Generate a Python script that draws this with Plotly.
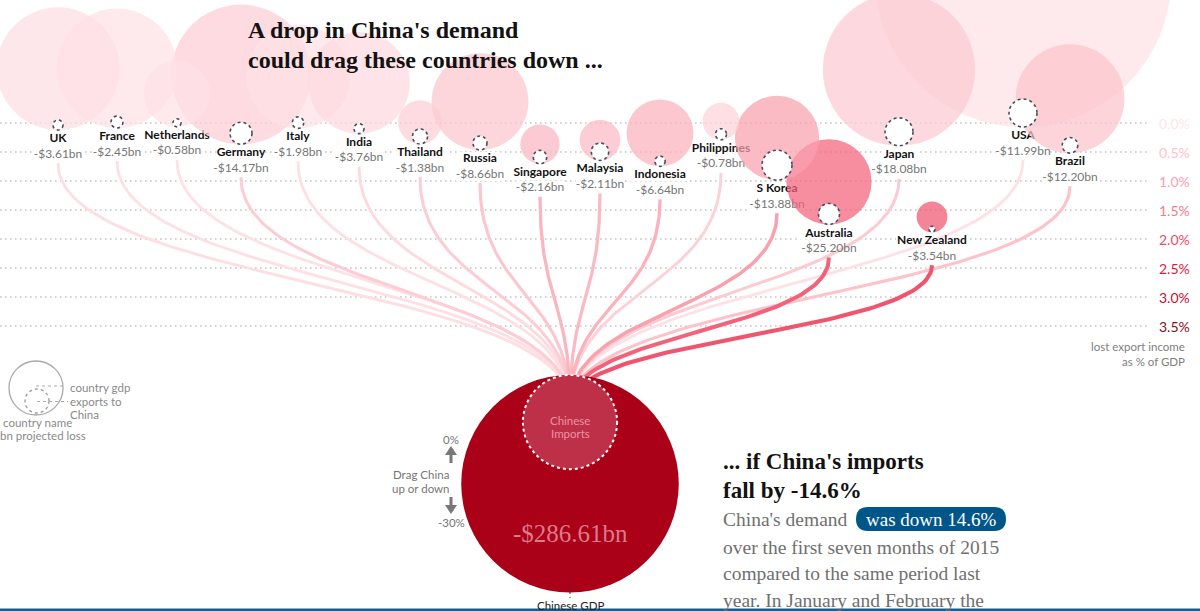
import numpy as np
import plotly.graph_objects as go
from plotly.colors import sample_colorscale

# ---------------- data ----------------
countries = ["UK", "France", "Netherlands", "Germany", "Italy", "India", "Thailand", "Russia",
             "Singapore", "Malaysia", "Indonesia", "Philippines", "S Korea", "Australia",
             "Japan", "New Zealand", "USA", "Brazil"]
loss_bn = [3.61, 2.45, 0.58, 14.17, 1.98, 3.76, 1.38, 8.66, 2.16, 2.11, 6.64, 0.78,
           13.88, 25.20, 18.08, 3.54, 11.99, 12.20]
gdp_bn = [2990, 2830, 870, 3870, 2140, 2050, 380, 1860, 307, 327, 888, 270,
          1410, 1440, 4600, 188, 17400, 2350]
exports_bn = [20, 28, 13, 96, 26, 20, 45, 39, 36, 60, 21, 24, 178, 88, 155, 7, 155, 48]

pct_ticks = [0.0, 0.5, 1.0, 1.5, 2.0, 2.5, 3.0, 3.5]
pct_tick_labels = ["0.0%", "0.5%", "1.0%", "1.5%", "2.0%", "2.5%", "3.0%", "3.5%"]
pct_tick_colors = ["#fde6ea", "#fcc4cc", "#f9a0ae", "#f47a8e", "#ef4a66", "#e8163d", "#c80c2e", "#8c0a22"]

china_imports_bn = 1963.1
china_gdp_bn = 10480
china_drop_pct = 14.6

# ---------------- layout positions (pixels) ----------------
node_x = [58, 117, 177, 241, 298, 359, 420, 480, 540, 600, 660, 721, 777, 829, 899, 932, 1023, 1070]
W, H = 1200, 611
PX0, PX_PER_PCT = 123, 58          # pixel row of 0% and pixels per 1 %
K_COUNTRY, K_CHINA = 35.5, 33.6    # px per sqrt($tn)
CHINA_X, CHINA_TOP = 570, 375
LINK_END = (570, 405)

def Y(px):
    return (px - PX0) / PX_PER_PCT

def dy(px):
    return px / PX_PER_PCT

colorscale = [[p / 3.5, c] for p, c in zip(pct_ticks, pct_tick_colors)]
def pct_color(p):
    return sample_colorscale(colorscale, [min(max(p / 3.5, 0), 1)])[0]

pct = [l / g * 100 for l, g in zip(loss_bn, gdp_bn)]
r_gdp = [K_COUNTRY * np.sqrt(g / 1000) for g in gdp_bn]
r_exp = [K_COUNTRY * np.sqrt(e / 1000) for e in exports_bn]

fig = go.Figure()
shapes = []
annotations = []

# grid lines
for p in pct_ticks:
    shapes.append(dict(type="line", xref="x", yref="y", x0=0, x1=1147, y0=p, y1=p, layer="below",
                       line=dict(color="#c4c4c4", width=1.6, dash="1.6px,3.4px")))

# white masks behind labels
for x, p, n, l in zip(node_x, pct, countries, loss_bn):
    val = f"-${l:.2f}bn"
    wn = 6.2 * len(n) + 4
    wv = 5.6 * len(val) + 4
    shapes.append(dict(type="rect", xref="x", yref="y", x0=x - wn / 2, x1=x + wn / 2,
                       y0=p + dy(2), y1=p + dy(15), fillcolor="white", line=dict(width=0), layer="below"))
    shapes.append(dict(type="rect", xref="x", yref="y", x0=x - wv / 2, x1=x + wv / 2,
                       y0=p + dy(17), y1=p + dy(31), fillcolor="white", line=dict(width=0), layer="below"))

# links (bezier, vertical link)
order = np.argsort(pct)
t = np.linspace(0, 1, 80)
for i in order:
    x0, y0 = node_x[i], PX0 + PX_PER_PCT * pct[i] + 33
    x3, y3 = LINK_END
    ym = (y0 + y3) / 2
    bx = (1 - t) ** 3 * x0 + 3 * (1 - t) ** 2 * t * x0 + 3 * (1 - t) * t ** 2 * x3 + t ** 3 * x3
    by = (1 - t) ** 3 * y0 + 3 * (1 - t) ** 2 * t * ym + 3 * (1 - t) * t ** 2 * ym + t ** 3 * y3
    fig.add_trace(go.Scatter(x=bx, y=Y(by), mode="lines", hoverinfo="skip",
                             line=dict(color=pct_color(pct[i]), width=2.8 + 0.7 * pct[i])))

# labels
fig.add_trace(go.Scatter(x=node_x, y=[p + dy(9) for p in pct], mode="text", text=countries,
                         textposition="middle center", hoverinfo="skip",
                         textfont=dict(family="Lato", size=12, color="#121212", weight="bold")))
fig.add_trace(go.Scatter(x=node_x, y=[p + dy(24.5) for p in pct], mode="text",
                         text=[f"-${l:.2f}bn" for l in loss_bn],
                         textposition="middle center", hoverinfo="skip",
                         textfont=dict(family="Lato", size=12, color="#767676")))

# gdp bubbles (big first)
for i in np.argsort(gdp_bn)[::-1]:
    x, p, r = node_x[i], pct[i], r_gdp[i]
    shapes.append(dict(type="circle", xref="x", yref="y", x0=x - r, x1=x + r,
                       y0=p - dy(2 * r), y1=p, fillcolor=pct_color(p), opacity=0.72,
                       line=dict(width=0), layer="above"))
# export circles
for x, p, r in zip(node_x, pct, r_exp):
    shapes.append(dict(type="circle", xref="x", yref="y", x0=x - r, x1=x + r,
                       y0=p - dy(2 * r), y1=p, fillcolor="white",
                       line=dict(color="#45505c", width=1.6, dash="dot"), layer="above"))

# China
R_china = K_CHINA * np.sqrt(china_gdp_bn / 1000)
R_imp = K_CHINA * np.sqrt(china_imports_bn / 1000)
shapes.append(dict(type="circle", xref="x", yref="y", x0=CHINA_X - R_china, x1=CHINA_X + R_china,
                   y0=Y(CHINA_TOP), y1=Y(CHINA_TOP + 2 * R_china), fillcolor="#aa0018",
                   line=dict(width=0), layer="above"))
shapes.append(dict(type="circle", xref="x", yref="y", x0=CHINA_X - R_imp, x1=CHINA_X + R_imp,
                   y0=Y(CHINA_TOP), y1=Y(CHINA_TOP + 2 * R_imp), fillcolor="#bd3048",
                   line=dict(color="white", width=2, dash="dot"), layer="above"))
shapes.append(dict(type="line", xref="x", yref="y", x0=570, x1=570, y0=Y(585), y1=Y(598),
                   line=dict(color="#333", width=1, dash="dot"), layer="above"))

# drag arrows
shapes.append(dict(type="line", xref="x", yref="y", x0=451, x1=451, y0=Y(454), y1=Y(463),
                   line=dict(color="#777", width=3), layer="above"))
shapes.append(dict(type="path", xref="x", yref="y",
                   path=f"M 445,{Y(455)} L 451,{Y(446)} L 457,{Y(455)} Z",
                   fillcolor="#777", line=dict(width=0), layer="above"))
shapes.append(dict(type="line", xref="x", yref="y", x0=451, x1=451, y0=Y(497), y1=Y(506),
                   line=dict(color="#777", width=3), layer="above"))
shapes.append(dict(type="path", xref="x", yref="y",
                   path=f"M 445,{Y(505)} L 451,{Y(514)} L 457,{Y(505)} Z",
                   fillcolor="#777", line=dict(width=0), layer="above"))

# legend
shapes.append(dict(type="circle", xref="x", yref="y", x0=9, x1=63, y0=Y(361), y1=Y(415),
                   line=dict(color="#aaaaaa", width=1.3), layer="above"))
shapes.append(dict(type="circle", xref="x", yref="y", x0=25, x1=49, y0=Y(389), y1=Y(413),
                   line=dict(color="#999999", width=1.3, dash="dot"), layer="above"))
shapes.append(dict(type="line", xref="x", yref="y", x0=36, x1=64, y0=Y(386), y1=Y(386),
                   line=dict(color="#aaaaaa", width=1, dash="dot"), layer="above"))
shapes.append(dict(type="line", xref="x", yref="y", x0=37, x1=68, y0=Y(401.5), y1=Y(401.5),
                   line=dict(color="#aaaaaa", width=1, dash="dot"), layer="above"))

# pill
def rrect(x0, y0, x1, y1, r):
    return (f"M {x0 + r},{Y(y0)} L {x1 - r},{Y(y0)} Q {x1},{Y(y0)} {x1},{Y(y0 + r)} "
            f"L {x1},{Y(y1 - r)} Q {x1},{Y(y1)} {x1 - r},{Y(y1)} L {x0 + r},{Y(y1)} "
            f"Q {x0},{Y(y1)} {x0},{Y(y1 - r)} L {x0},{Y(y0 + r)} Q {x0},{Y(y0)} {x0 + r},{Y(y0)} Z")
shapes.append(dict(type="path", xref="x", yref="y", path=rrect(856, 507, 1006, 531, 12),
                   fillcolor="#005689", line=dict(width=0), layer="above"))

# bottom rule
shapes.append(dict(type="rect", xref="x", yref="y", x0=0, x1=1200, y0=Y(608.5), y1=Y(613),
                   fillcolor="#1f5b8a", line=dict(width=0), layer="above"))

def txt(x, ypx, s, size, color, family="Lato", anchor="center", weight="normal"):
    annotations.append(dict(x=x, y=Y(ypx), xref="x", yref="y", text=s, showarrow=False,
                            xanchor=anchor, yanchor="middle",
                            font=dict(family=family, size=size, color=color, weight=weight)))

# right scale labels
for p, lab, c in zip(pct_ticks, pct_tick_labels, pct_tick_colors):
    annotations.append(dict(x=1157, y=p, xref="x", yref="y", text=lab, showarrow=False,
                            xanchor="left", yanchor="middle",
                            font=dict(family="Lato", size=14, color=c)))
txt(1187, 346, "lost export income", 11.5, "#808080", anchor="right")
txt(1187, 361, "as % of GDP", 11.5, "#808080", anchor="right")

SERIF = "Liberation Serif"
txt(246, 30, "A drop in China's demand", 24, "#121212", SERIF, "left", "bold")
txt(246, 60, "could drag these countries down ...", 24, "#121212", SERIF, "left", "bold")

txt(570, 420, "Chinese", 11.5, "#ec93a2")
txt(570, 433, "Imports", 11.5, "#ec93a2")
txt(570, 533, f"-${china_imports_bn * china_drop_pct / 100:.2f}bn", 25, "#dc7a8a", SERIF)
txt(570, 605, "Chinese GDP", 11.5, "#222222")

txt(451, 439, "0%", 11.5, "#767676")
txt(421, 474, "Drag China", 11.5, "#767676")
txt(421, 488, "up or down", 11.5, "#767676")
txt(451, 522, "-30%", 11.5, "#767676")

txt(68, 387, "country gdp", 11.5, "#8a8a8a", anchor="left")
txt(68, 401, "exports to", 11.5, "#8a8a8a", anchor="left")
txt(68, 414, "China", 11.5, "#8a8a8a", anchor="left")
txt(37, 422, "country name", 11.5, "#8a8a8a")
txt(37, 435.5, "-$bn projected loss", 11.5, "#8a8a8a")

txt(721, 461, "... if China's imports", 23, "#121212", SERIF, "left", "bold")
txt(721, 490, f"fall by -{china_drop_pct}%", 23, "#121212", SERIF, "left", "bold")
txt(721, 519, "China's demand", 19.5, "#707070", SERIF, "left")
txt(931, 519, f"was down {china_drop_pct}%", 19, "#ffffff", SERIF)
txt(721, 547, "over the first seven months of 2015", 19.5, "#707070", SERIF, "left")
txt(721, 573, "compared to the same period last", 19.5, "#707070", SERIF, "left")
txt(721, 600, "year. In January and February the", 19.5, "#707070", SERIF, "left")

fig.update_layout(
    width=W, height=H, margin=dict(l=0, r=0, t=0, b=0),
    paper_bgcolor="white", plot_bgcolor="white", showlegend=False, hovermode=False,
    xaxis=dict(range=[0, W], visible=False, fixedrange=True),
    yaxis=dict(range=[Y(H), Y(0)], visible=False, fixedrange=True),
    shapes=shapes, annotations=annotations,
)
fig.write_html("out.html", config={"displayModeBar": False},
               post_script="document.body.style.margin='0';document.body.style.overflow='hidden';")
